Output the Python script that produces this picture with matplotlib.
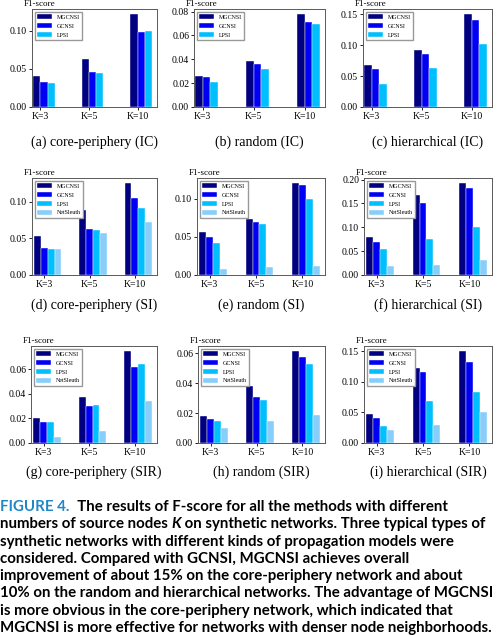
import matplotlib
matplotlib.use("Agg")
import matplotlib.pyplot as plt
import numpy as np
from matplotlib.ticker import MultipleLocator, FormatStrFormatter

plt.rcParams["font.family"] = "Liberation Serif"

# Data
k_labels = ["K=3", "K=5", "K=10"]
methods = ["MGCNSI", "GCNSI", "LPSI", "NetSleuth"]
colors = ["#000080", "#0000f5", "#00bfff", "#87cefa"]

# IC
cp_ic = [[0.0405, 0.0634, 0.1225], [0.033, 0.0458, 0.0987], [0.0317, 0.0449, 0.1004]]
rand_ic = [[0.0262, 0.0383, 0.0783], [0.0254, 0.0363, 0.0713], [0.0206, 0.0315, 0.0693]]
hier_ic = [[0.0685, 0.0924, 0.1511], [0.062, 0.0859, 0.1402], [0.0375, 0.0636, 0.1016]]
# SI
cp_si = [[0.0525, 0.0882, 0.1258], [0.0371, 0.0629, 0.1045],
         [0.0357, 0.0611, 0.0914], [0.0348, 0.0566, 0.0719]]
rand_si = [[0.0561, 0.073, 0.1209], [0.050, 0.0691, 0.1178],
           [0.0413, 0.0661, 0.0996], [0.0074, 0.0104, 0.0113]]
hier_si = [[0.079, 0.1678, 0.1937], [0.0692, 0.1503, 0.1832],
           [0.0552, 0.0755, 0.1014], [0.0189, 0.021, 0.0308]]
# SIR
cp_sir = [[0.0201, 0.0372, 0.0752], [0.0171, 0.0299, 0.0619],
          [0.0171, 0.031, 0.0641], [0.0049, 0.010, 0.0345]]
rand_sir = [[0.0178, 0.0378, 0.0616], [0.016, 0.0307, 0.0573],
            [0.0149, 0.0289, 0.0527], [0.010, 0.0149, 0.0189]]
hier_sir = [[0.0475, 0.1227, 0.1511], [0.0404, 0.1162, 0.1326],
            [0.0284, 0.0693, 0.0835], [0.0207, 0.030, 0.0502]]

panels = [
    (cp_ic, "(a) core-periphery (IC)", 0.05),
    (rand_ic, "(b) random (IC)", 0.02),
    (hier_ic, "(c) hierarchical (IC)", 0.05),
    (cp_si, "(d) core-periphery (SI)", 0.05),
    (rand_si, "(e) random (SI)", 0.05),
    (hier_si, "(f) hierarchical (SI)", 0.05),
    (cp_sir, "(g) core-periphery (SIR)", 0.02),
    (rand_sir, "(h) random (SIR)", 0.02),
    (hier_sir, "(i) hierarchical (SIR)", 0.05),
]

caption = [
    [("FIGURE 4.", "#1f86c8", "normal"), ("  The results of F-score for all the methods with different", "black", "normal")],
    [("numbers of source nodes ", "black", "normal"), ("K", "black", "italic"),
     (" on synthetic networks. Three typical types of", "black", "normal")],
    [("synthetic networks with different kinds of propagation models were", "black", "normal")],
    [("considered. Compared with GCNSI, MGCNSI achieves overall", "black", "normal")],
    [("improvement of about 15% on the core-periphery network and about", "black", "normal")],
    [("10% on the random and hierarchical networks. The advantage of MGCNSI", "black", "normal")],
    [("is more obvious in the core-periphery network, which indicated that", "black", "normal")],
    [("MGCNSI is more effective for networks with denser node neighborhoods.", "black", "normal")],
]

W, H = 500, 635
fig = plt.figure(figsize=(W / 100, H / 100), dpi=100)

# axes boxes in pixels: (left, right) per column, (top, bottom) per row
cols = [[(32, 157), (194, 325), (363, 492)],
        [(32, 157), (197, 325), (364, 492)],
        [(31, 157), (198, 325), (364, 492)]]
rows = [(9, 107), (178, 275), (346, 443)]
label_y = [142, 305, 472]

w = 0.15
x = np.arange(len(k_labels))
for i, (data, title, step) in enumerate(panels):
    r, c = divmod(i, 3)
    l, rr = cols[r][c]
    t, b = rows[r]
    ax = fig.add_axes([l / W, 1 - b / H, (rr - l) / W, (b - t) / H])
    n = len(data)
    for j, vals in enumerate(data):
        ax.bar(x + j * w, vals, w, color=colors[j], label=methods[j],
               edgecolor="white", linewidth=0.3)
    ax.set_xticks(x + (n - 2) * w / 2)
    ax.set_xticklabels(k_labels, fontsize=7)
    if n == 3:
        ax.set_xlim(-0.095, 2.475)
    else:
        ax.set_xlim(-0.125, 2.64)
    ax.yaxis.set_major_locator(MultipleLocator(step))
    ax.yaxis.set_major_formatter(FormatStrFormatter("%.2f"))
    ax.tick_params(axis="both", labelsize=7, length=2.5, width=0.6, pad=1)
    ax.set_ylim(bottom=0)
    for s in ax.spines.values():
        s.set_color("0.35")
        s.set_linewidth(0.7)
    ax.annotate("F1-score", xy=(0, 1), xycoords="axes fraction",
                xytext=(-8, 1), textcoords="offset pixels",
                fontsize=6.5, va="bottom", ha="left")
    ax.legend(loc="upper left", fontsize=4.3, handlelength=2.4,
              handleheight=0.9, borderaxespad=0.5, labelspacing=0.55,
              frameon=True, fancybox=False, edgecolor="0.6", framealpha=1)
    fig.text((l + rr) / 2 / W, 1 - label_y[r] / H, title,
             fontsize=10, ha="center", va="center")

# caption
renderer = fig.canvas.get_renderer()
for k, segs in enumerate(caption):
    xp = 0.0
    yb = 511 + 17.3 * k
    for txt, col, style in segs:
        t = fig.text(xp / W, 1 - yb / H, txt, color=col, fontstyle=style,
                     fontfamily="Lato", fontweight="bold", fontsize=10.8,
                     ha="left", va="baseline")
        xp += t.get_window_extent(renderer).width

fig.savefig("out.png", dpi=100)
